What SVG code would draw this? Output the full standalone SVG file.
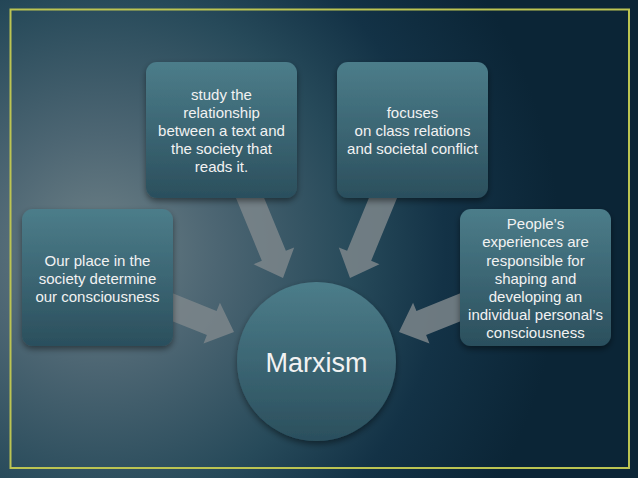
<svg xmlns="http://www.w3.org/2000/svg" width="638" height="478" viewBox="0 0 638 478">
  <defs>
    <radialGradient id="bg" gradientUnits="userSpaceOnUse" cx="100" cy="250" r="460">
      <stop offset="0" stop-color="#6e8187"/>
      <stop offset="0.25" stop-color="#4d6673"/>
      <stop offset="0.55" stop-color="#274a5a"/>
      <stop offset="0.75" stop-color="#133246"/>
      <stop offset="1" stop-color="#0b2536"/>
    </radialGradient>
    <linearGradient id="nodeFill" x1="0" y1="0" x2="0" y2="1">
      <stop offset="0" stop-color="#4c7d8a"/>
      <stop offset="1" stop-color="#2b4f5d"/>
    </linearGradient>
    <filter id="shadow" x="-20%" y="-20%" width="140%" height="140%">
      <feDropShadow dx="0" dy="3" stdDeviation="3" flood-color="#000" flood-opacity="0.45"/>
    </filter>
  </defs>
  <style>
    .node { fill: url(#nodeFill); filter: url(#shadow); }
    .label { font-family: "Liberation Sans", Arial, sans-serif; font-size: 15px; fill: #f2f2f2; text-anchor: middle; }
    .big { font-size: 27px; }
    .arrow { fill: #7d868b; fill-opacity: 0.85; }
  </style>
  <rect width="638" height="478" fill="url(#bg)"/>
  <rect x="10.5" y="9.5" width="618.5" height="458.5" fill="none" stroke="#bcc452" stroke-width="2"/>

  <g id="connectors">
    <polygon class="arrow" transform="translate(283,278) rotate(67.6)" points="0,0 -24,-22 -24,-13 -100,-13 -100,13 -24,13 -24,22"/>
    <polygon class="arrow" transform="translate(350,278) rotate(112.4)" points="0,0 -24,-22 -24,-13 -100,-13 -100,13 -24,13 -24,22"/>
    <polygon class="arrow" transform="translate(234,332) rotate(21.9)" points="0,0 -24,-22 -24,-13 -80,-13 -80,13 -24,13 -24,22"/>
    <polygon class="arrow" transform="translate(399,332) rotate(158.1)" points="0,0 -24,-22 -24,-13 -80,-13 -80,13 -24,13 -24,22"/>
  </g>

  <g id="node-study">
    <rect class="node" x="146" y="62" width="151" height="136" rx="11"/>
    <text class="label" x="221.5" y="100">study the</text>
    <text class="label" x="221.5" y="118">relationship</text>
    <text class="label" x="221.5" y="136">between a text and</text>
    <text class="label" x="221.5" y="154">the society that</text>
    <text class="label" x="221.5" y="172">reads it.</text>
  </g>

  <g id="node-focuses">
    <rect class="node" x="337" y="62" width="151" height="136" rx="11"/>
    <text class="label" x="412.5" y="118">focuses</text>
    <text class="label" x="412.5" y="136">on class relations</text>
    <text class="label" x="412.5" y="154">and societal conflict</text>
  </g>

  <g id="node-place">
    <rect class="node" x="22" y="209" width="151" height="137" rx="11"/>
    <text class="label" x="97.5" y="266">Our place in the</text>
    <text class="label" x="97.5" y="284">society determine</text>
    <text class="label" x="97.5" y="302">our consciousness</text>
  </g>

  <g id="node-people">
    <rect class="node" x="460" y="209" width="151" height="137" rx="11"/>
    <text class="label" x="535.5" y="229">People’s</text>
    <text class="label" x="535.5" y="247">experiences are</text>
    <text class="label" x="535.5" y="265.5">responsible for</text>
    <text class="label" x="535.5" y="284">shaping and</text>
    <text class="label" x="535.5" y="302">developing an</text>
    <text class="label" x="535.5" y="320">individual personal’s</text>
    <text class="label" x="535.5" y="338">consciousness</text>
  </g>

  <g id="node-marxism">
    <circle class="node" cx="316.5" cy="361.5" r="79.5"/>
    <text class="label big" x="316.5" y="372">Marxism</text>
  </g>
</svg>
